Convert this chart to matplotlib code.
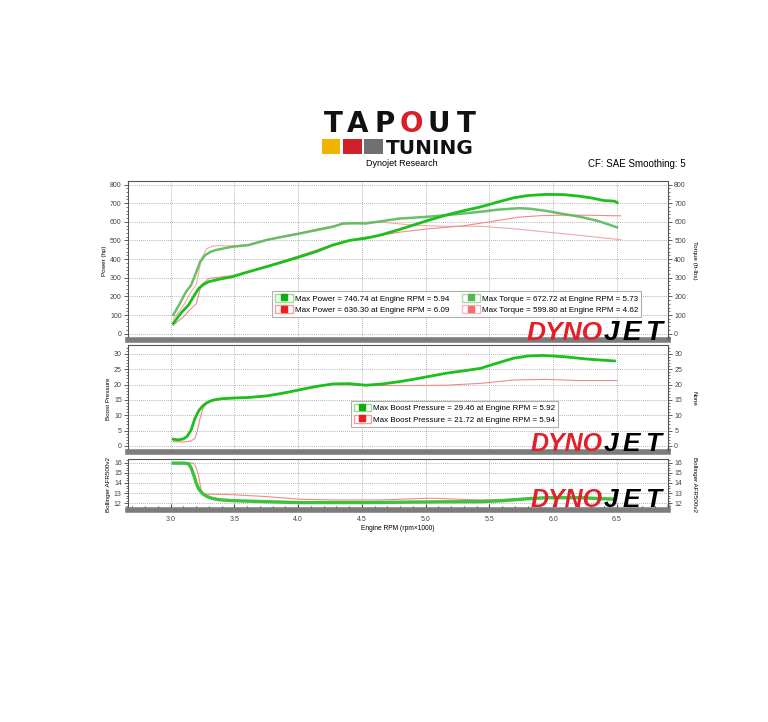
import matplotlib
matplotlib.use('Agg')
import matplotlib.pyplot as plt
import matplotlib.transforms as mtransforms
from matplotlib.lines import Line2D
from matplotlib.patches import Rectangle, Patch
from matplotlib.legend_handler import HandlerTuple
from matplotlib.ticker import MultipleLocator

# ---------------- data ----------------
rpm_pow_g = [3.02, 3.08, 3.14, 3.18, 3.22, 3.26, 3.30, 3.38, 3.48, 3.60, 3.75, 3.88, 4.01, 4.14, 4.27,
             4.40, 4.53, 4.64, 4.80, 4.90, 5.03, 5.16, 5.30, 5.43, 5.56, 5.69, 5.80, 5.94, 6.08, 6.20,
             6.30, 6.40, 6.48, 6.50]
pow_g = [55, 110, 154, 200, 243, 265, 279, 292, 305, 330, 359, 385, 412, 440, 475,
         500, 512, 528, 560, 582, 610, 636, 660, 680, 705, 729, 741, 747, 746, 738,
         728, 714, 711, 703]

rpm_trq_g = [3.02, 3.07, 3.12, 3.16, 3.20, 3.23, 3.27, 3.31, 3.35, 3.42, 3.48, 3.61, 3.75, 3.88, 4.01,
             4.14, 4.27, 4.35, 4.45, 4.53, 4.66, 4.80, 4.90, 5.03, 5.16, 5.30, 5.43, 5.56, 5.73, 5.82,
             5.95, 6.08, 6.21, 6.35, 6.48, 6.50]
trq_g = [100, 160, 225, 260, 330, 385, 421, 438, 448, 458, 466, 475, 502, 520, 537,
         555, 573, 591, 592, 591, 604, 618, 622, 628, 636, 645, 654, 665, 673, 670,
         658, 642, 627, 605, 575, 570]

rpm_pow_r = [3.02, 3.10, 3.16, 3.20, 3.24, 3.30, 3.40, 3.50, 3.75, 4.01, 4.27, 4.50, 4.64, 4.80, 5.03,
             5.29, 5.50, 5.73, 5.90, 6.09, 6.30, 6.53]
pow_r = [45, 90, 135, 160, 262, 296, 305, 312, 362, 418, 478, 515, 527, 545, 563,
         578, 600, 625, 633, 636, 635, 632]

rpm_trq_r = [3.02, 3.10, 3.16, 3.20, 3.24, 3.28, 3.33, 3.40, 3.50, 3.61, 3.75, 3.88, 4.01, 4.14, 4.27,
             4.40, 4.50, 4.62, 4.75, 4.90, 5.16, 5.43, 5.69, 5.95, 6.21, 6.53]
trq_r = [78, 150, 225, 262, 400, 455, 470, 472, 470, 478, 505, 523, 540, 560, 578,
         592, 597, 600, 592, 582, 576, 576, 563, 545, 527, 504]

rpm_boost_g = [3.02, 3.06, 3.10, 3.13, 3.16, 3.19, 3.22, 3.25, 3.28, 3.32, 3.36, 3.40, 3.48, 3.61, 3.75,
               3.88, 4.01, 4.14, 4.27, 4.40, 4.53, 4.66, 4.80, 4.90, 5.03, 5.16, 5.30, 5.43, 5.56, 5.69,
               5.80, 5.92, 6.08, 6.27, 6.48]
boost_g = [2.2, 2.0, 2.3, 3.2, 5.2, 9.0, 11.5, 13.0, 14.0, 14.8, 15.2, 15.4, 15.6, 15.8, 16.3,
           17.2, 18.3, 19.4, 20.2, 20.3, 19.8, 20.2, 21.0, 21.7, 22.7, 23.7, 24.5, 25.3, 27.0, 28.6,
           29.3, 29.5, 29.1, 28.3, 27.7]

rpm_boost_r = [3.02, 3.10, 3.16, 3.19, 3.21, 3.23, 3.25, 3.28, 3.32, 3.40, 3.50, 3.75, 4.01, 4.27, 4.53,
               4.80, 4.90, 5.16, 5.43, 5.69, 5.94, 6.21, 6.50]
boost_r = [1.4, 1.3, 1.6, 2.5, 5.0, 9.0, 12.0, 13.8, 14.6, 15.2, 15.5, 16.2, 18.3, 20.1, 19.7,
           19.7, 19.7, 19.8, 20.4, 21.5, 21.7, 21.3, 21.3]

rpm_afr_g = [3.02, 3.10, 3.14, 3.16, 3.18, 3.20, 3.22, 3.25, 3.28, 3.32, 3.38, 3.48, 3.75, 4.01, 4.53,
             4.90, 5.16, 5.43, 5.60, 5.80, 5.95, 6.21, 6.48]
afr_g = [15.95, 15.95, 15.9, 15.5, 14.8, 14.0, 13.4, 12.95, 12.7, 12.5, 12.35, 12.26, 12.16, 12.07, 12.07,
         12.12, 12.15, 12.16, 12.25, 12.45, 12.55, 12.55, 12.4]

rpm_afr_r = [3.02, 3.10, 3.18, 3.20, 3.22, 3.24, 3.26, 3.30, 3.48, 3.75, 4.01, 4.27, 4.64, 5.04, 5.43,
             5.95, 6.50]
afr_r = [16.0, 16.0, 15.95, 15.5, 14.6, 13.2, 12.9, 12.9, 12.85, 12.66, 12.4, 12.33, 12.33, 12.5, 12.33,
         12.5, 12.5]

x_ticks = [3.0, 3.5, 4.0, 4.5, 5.0, 5.5, 6.0, 6.5]
x_ticklabels = ['3.0', '3.5', '4.0', '4.5', '5.0', '5.5', '6.0', '6.5']
power_ticks = [0, 100, 200, 300, 400, 500, 600, 700, 800]
boost_ticks = [0, 5, 10, 15, 20, 25, 30]
afr_ticks = [12, 13, 14, 15, 16]

legend_top = ['Max Power = 746.74 at Engine RPM = 5.94',
              'Max Power = 636.30 at Engine RPM = 6.09',
              'Max Torque = 672.72 at Engine RPM = 5.73',
              'Max Torque = 599.80 at Engine RPM = 4.62']
legend_mid = ['Max Boost Pressure = 29.46 at Engine RPM = 5.92',
              'Max Boost Pressure = 21.72 at Engine RPM = 5.94']

# ---------------- styling ----------------
FONT = ['Liberation Sans', 'DejaVu Sans']
plt.rcParams['font.family'] = FONT

GREEN = '#1cbf1c'
GREEN_T = '#5ab85a'
RED = '#f08a8a'
RED_T = '#f5a8a8'

W, H = 768, 722
fig = plt.figure(figsize=(7.68, 7.22), dpi=100)
fig.patch.set_facecolor('white')


def fx(px):
    return px / W


def fy(py):
    return 1 - py / H


def add_ax(l, r, t, b):
    return fig.add_axes([fx(l), fy(b), fx(r) - fx(l), fy(t) - fy(b)])


XMIN, XMAX = 2.665, 6.90

ax1 = add_ax(128, 668, 181, 340)
ax2 = add_ax(128, 668, 345, 452)
ax3 = add_ax(128, 668, 459, 510)


def style(ax, ylim, major, minor, lab_l, lab_r, rlab_px):
    ax.set_xlim(XMIN, XMAX)
    ax.set_ylim(*ylim)
    ax.set_yticks(major)
    ax.set_yticklabels([str(v) for v in major])
    ax.yaxis.set_minor_locator(MultipleLocator(minor))
    ax.set_xticks(x_ticks)
    ax.tick_params(axis='y', which='both', left=True, right=True, labelleft=True,
                   labelright=True, labelsize=5, direction='out', length=3, width=0.6,
                   colors='#444444', pad=1.5)
    ax.tick_params(axis='y', which='minor', length=1.6, width=0.5)
    ax.grid(True, which='major', ls=(0, (1, 1.5)), color='#9a9a9a', lw=0.6)
    for s in ['left', 'right', 'top']:
        ax.spines[s].set_color('#555555')
        ax.spines[s].set_linewidth(0.8)
    ax.spines['bottom'].set_color('#7c7c7c')
    ax.spines['bottom'].set_linewidth(4)
    ax.set_ylabel(lab_l, fontsize=4.5, labelpad=2)
    tr = mtransforms.blended_transform_factory(fig.transFigure, ax.transAxes)
    ax.text(fx(rlab_px), 0.5, lab_r, rotation=270, fontsize=4.5, va='center', ha='center',
            transform=tr)


style(ax1, (-34, 819), power_ticks, 20, 'Power (hp)', 'Torque (ft-lbs)', 694)
style(ax2, (-1.96, 32.9), boost_ticks, 1, 'Boost Pressure', 'None', 694)
style(ax3, (11.34, 16.36), afr_ticks, 0.25, 'Bollinger AFR500v2', 'Bollinger AFR500v2', 694)

for ax in (ax1, ax2):
    ax.tick_params(axis='x', which='both', length=0, labelbottom=False)
ax3.set_xticklabels(x_ticklabels)
ax3.xaxis.set_minor_locator(MultipleLocator(0.1))
ax3.tick_params(axis='x', which='both', labelsize=5, direction='in', length=4, width=0.8,
                colors='#444444', pad=4.5)
ax3.tick_params(axis='x', which='minor', length=3)
ax3.set_xlabel('Engine RPM (rpm\u00d71000)', fontsize=4.8, labelpad=1)

# ---------------- curves ----------------
ax1.plot(rpm_trq_r, trq_r, color=RED_T, lw=0.8, zorder=3)
ax1.plot(rpm_pow_r, pow_r, color=RED, lw=0.8, zorder=3)
ax1.plot(rpm_trq_g, trq_g, color=GREEN_T, lw=1.8, zorder=4, alpha=0.9)
ax1.plot(rpm_pow_g, pow_g, color=GREEN, lw=2.0, zorder=5)

ax2.plot(rpm_boost_r, boost_r, color=RED, lw=0.8, zorder=3)
ax2.plot(rpm_boost_g, boost_g, color=GREEN, lw=2.0, zorder=4)

ax3.plot(rpm_afr_r, afr_r, color=RED, lw=0.8, zorder=3)
ax3.plot(rpm_afr_g, afr_g, color='#3cc23c', lw=2.4, zorder=4)


def handle(fill, pale):
    return (Patch(facecolor='white', edgecolor=pale, linewidth=1.0),
            Line2D([], [], marker='s', color=fill, markersize=4, linestyle='None'))


h_top = [handle('#0fae0f', '#8fe08f'), handle('#ee1c1c', '#f5a0a0'),
         handle('#55b455', '#a8dca8'), handle('#f07070', '#f7b8b8')]
leg = ax1.legend(h_top, legend_top, ncol=2, loc='lower left', bbox_to_anchor=(0.26, 0.12),
                 fontsize=5.8, frameon=True, fancybox=False, edgecolor='#9a9a9a',
                 borderpad=0.35, handlelength=2.2, handleheight=1.1, handletextpad=0.25,
                 columnspacing=1.6, labelspacing=0.35,
                 handler_map={tuple: HandlerTuple(ndivide=1)})
leg.get_frame().set_linewidth(0.8)
leg.set_zorder(6)

h_mid = [handle('#0fae0f', '#8fe08f'), handle('#ee1c1c', '#f5a0a0')]
leg2 = ax2.legend(h_mid, legend_mid, ncol=1, loc='lower left', bbox_to_anchor=(0.405, 0.2),
                  fontsize=5.8, frameon=True, fancybox=False, edgecolor='#9a9a9a',
                  borderpad=0.35, handlelength=2.2, handleheight=1.1, handletextpad=0.25,
                  labelspacing=0.35, handler_map={tuple: HandlerTuple(ndivide=1)})
leg2.get_frame().set_linewidth(0.8)
leg2.set_zorder(6)


# ---------------- DYNOJET marks ----------------
def dynojet(split_px, base_py, size):
    fig.text(fx(split_px), fy(base_py), 'DYNO', color='#e3202a', fontsize=size,
             fontweight='bold', style='italic', ha='right', va='baseline', zorder=10)
    for ch, off in [('J', 1), ('E', 20), ('T', 42)]:
        fig.text(fx(split_px + off), fy(base_py), ch, color='black', fontsize=size * 1.05,
                 fontweight='bold', style='italic', ha='left', va='baseline', zorder=10)
    fig.text(fx(669), fy(base_py + 1), '\u00ae', color='#333333', fontsize=3.5,
             ha='center', va='baseline', zorder=10)


dynojet(603, 340, 19)
dynojet(603, 451, 18)
dynojet(603, 507, 18)

# ---------------- header ----------------
for ch, cx, col in [('T', 333, '#111111'), ('A', 358, '#111111'), ('P', 385, '#111111'),
                    ('O', 411, '#d8202a'), ('U', 439, '#111111'), ('T', 466, '#111111')]:
    fig.text(fx(cx), fy(132), ch, fontsize=20, fontweight='bold', color=col,
             ha='center', va='baseline', family='DejaVu Sans')
fig.text(fx(386), fy(153.5), 'TUNING', fontsize=14.5, fontweight='bold', color='#111111',
         ha='left', va='baseline', family='DejaVu Sans')
for x0, x1, c in [(322, 340, '#f0b400'), (343, 362, '#d0202a'), (364, 383, '#707070')]:
    fig.patches.append(Rectangle((fx(x0), fy(153.5)), fx(x1) - fx(x0), fy(139) - fy(153.5),
                                 transform=fig.transFigure, facecolor=c, edgecolor='none'))

fig.text(fx(402), fy(164), 'Dynojet Research', fontsize=6.5, ha='center', va='center')
fig.text(fx(588), fy(164), 'CF: SAE Smoothing: 5', fontsize=7, ha='left', va='center')

fig.savefig('out.png', dpi=100)
